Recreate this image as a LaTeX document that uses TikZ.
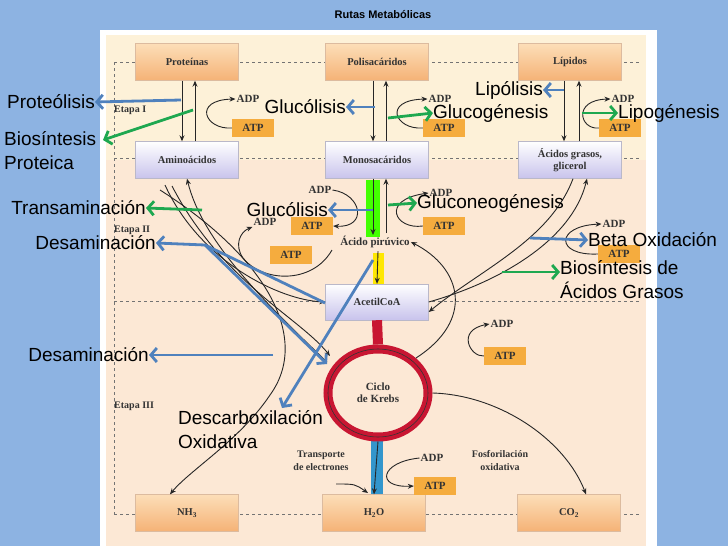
\documentclass[tikz,border=0pt]{standalone}
\usepackage{fontspec}
\setmainfont{Liberation Sans}
\newfontfamily\serf{Liberation Serif}
\usetikzlibrary{arrows.meta,shapes.geometric}
\definecolor{bgblue}{RGB}{141,179,226}
\definecolor{beigeA}{RGB}{253,241,216}
\definecolor{beigeB}{RGB}{252,232,213}
\definecolor{atpor}{RGB}{245,172,62}
\definecolor{annblue}{RGB}{79,129,189}
\definecolor{anngreen}{RGB}{30,168,80}
\definecolor{kred}{RGB}{200,22,50}
\definecolor{tboxA}{RGB}{252,222,184}
\definecolor{tboxB}{RGB}{245,178,118}
\definecolor{mboxB}{RGB}{200,195,236}
\begin{document}
\begin{tikzpicture}[x=1pt,y=-1pt,
  tbox/.style={draw=tboxB!80!black!60, top color=tboxA, bottom color=tboxB, minimum width=103pt, minimum height=37pt, inner sep=1pt, font=\serf\bfseries\fontsize{10.5}{11}\selectfont, text=black!80},
  mbox/.style={draw=mboxB!70!black!60, top color=white, bottom color=mboxB, minimum width=103pt, minimum height=37pt, inner sep=1pt, align=center, font=\serf\bfseries\fontsize{10.5}{12}\selectfont, text=black!80},
  atp/.style={fill=atpor, minimum width=42pt, minimum height=18pt, inner sep=0pt, font=\serf\bfseries\fontsize{11}{11}\selectfont, text=black!80},
  sm/.style={inner sep=1pt, font=\serf\bfseries\fontsize{11}{12}\selectfont, text=black!80},
  dl/.style={draw=black!55, dashed, line width=0.6pt},
  blk/.style={draw=black!85, line width=0.9pt, -{Stealth[length=6pt,width=5pt]}},
  ann/.style={inner sep=0pt, font=\fontsize{19}{24}\selectfont, align=left},
  barr/.style={annblue, line width=2.8pt, -{Straight Barb[length=6pt,width=14pt]}},
  garr/.style={anngreen, line width=2.8pt, -{Straight Barb[length=6pt,width=14pt]}}]
\useasboundingbox (0,0) rectangle (728,546);
\fill[bgblue] (0,0) rectangle (728,546);
\fill[white] (100,30) rectangle (657,546);
\fill[beigeA] (106,35) rectangle (646,160);
\fill[beigeB] (106,160) rectangle (646,546);
\node[font=\bfseries\fontsize{11}{13}\selectfont] (title) at (383,15) {Rutas Metabólicas};
% dashed stage lines
\draw[dl] (114,62) -- (641,62);
\draw[dl] (114,158) -- (641,158);
\draw[dl] (114,301) -- (641,301);
\draw[dl] (114,514) -- (641,514);
\draw[dl] (114,62) -- (114,514);
% bars
\fill[green!65!lime] (366,180) rectangle (380,237);
\fill[yellow!90!orange] (373,253) rectangle (384,285);
\fill[blue!35!cyan!60!gray] (371,440) rectangle (383,495);
% boxes
\node[tbox] (prot) at (187,62) {Proteínas};
\node[tbox] (poli) at (377,62) {Polisacáridos};
\node[tbox] (lip) at (570,62) {Lípidos};
\node[mbox] (amino) at (187,160) {Aminoácidos};
\node[mbox] (mono) at (377,160) {Monosacáridos};
\node[mbox] (acg) at (570,160) {Ácidos grasos,\\glicerol};
\node[mbox, minimum height=36pt] (acetil) at (377,302) {AcetilCoA};
\node[tbox] (nh) at (187,513) {NH\textsubscript{3}};
\node[tbox] (h2o) at (374,513) {H\textsubscript{2}O};
\node[tbox] (co2) at (569,513) {CO\textsubscript{2}};
\node[sm] (pir) at (375,242) {Ácido pirúvico};
\node[ellipse, draw=kred, line width=9pt, minimum width=100pt, minimum height=88pt, sm, align=center] (krebs) at (378,393) {Ciclo\\de Krebs};
\draw[kred, line width=10pt] (acetil.south) -- (krebs.north);
\draw[black!80, line width=0.6pt] (378,393) ellipse (50pt and 44pt);
% stage labels
\node[sm, anchor=west, font=\serf\bfseries\fontsize{10}{11}\selectfont] (e1) at (113,110) {Etapa I};
\node[sm, anchor=west, font=\serf\bfseries\fontsize{10}{11}\selectfont] (e2) at (113,230) {Etapa II};
\node[sm, anchor=west, font=\serf\bfseries\fontsize{10}{11}\selectfont] (e3) at (113,406) {Etapa III};
% stage I arrows
\draw[blk] ([xshift=-5pt]prot.south) -- ([xshift=-5pt]amino.north);
\draw[blk] ([xshift=8pt]amino.north) -- ([xshift=8pt]prot.south);
\draw[blk] ([xshift=-4pt]poli.south) -- ([xshift=-4pt]mono.north);
\draw[blk] ([xshift=9pt]mono.north) -- ([xshift=9pt]poli.south);
\draw[blk] ([xshift=-6pt]lip.south) -- ([xshift=-6pt]acg.north);
\draw[blk] ([xshift=9pt]acg.north) -- ([xshift=9pt]lip.south);
\node[sm] (adp1) at (248,99) {ADP};
\node[atp] (atp1) at (253,128) {ATP};
\draw[blk] (atp1.west) .. controls (205,130) and (192,100) .. (adp1.west);
\node[sm] (adp2) at (440,99) {ADP};
\node[atp] (atp2) at (444,128) {ATP};
\draw[blk] (atp2.west) .. controls (395,130) and (382,100) .. (adp2.west);
\node[sm] (adp3) at (623,99) {ADP};
\node[atp] (atp3) at (620,128) {ATP};
\draw[blk] (atp3.west) .. controls (580,130) and (572,100) .. (adp3.west);
% stage II middle
\draw[blk] ([xshift=-4pt]mono.south) -- (373,235);
\draw[blk] (386,233) -- ([xshift=9pt]mono.south);
\draw[blk] (pir.south) ++(3,2) coordinate (pyb) (pyb) -- (acetil.north);
\node[sm] (adpL) at (320,190) {ADP};
\node[atp] (atpL) at (312,226) {ATP};
\draw[blk] (adpL.east) .. controls (362,194) and (368,228) .. (atpL.east);
\node[sm] (adpR) at (441,193) {ADP};
\node[atp] (atpR) at (444,226) {ATP};
\draw[blk] (atpR.west) .. controls (395,230) and (380,200) .. (adpR.west);
\node[sm] (adpP) at (265,222) {ADP};
\node[atp] (atpP) at (291,255) {ATP};
\draw[blk] (332,250) .. controls (312,285) and (262,282) .. (243,258) .. controls (234,245) and (240,232) .. (adpP.south west);
% left bundle
\coordinate (aa1) at (165,185);
\coordinate (aa2) at (172,186);
\coordinate (aa3) at (160,190);
\draw[blk] (aa1) .. controls (200,262) and (280,300) .. (acetil.west);
\draw[blk] (327,362) .. controls (262,300) and (202,240) .. (amino.south);
\draw[blk] (aa2) .. controls (222,282) and (300,318) .. (330,356);
\draw[blk] (aa3) .. controls (270,260) and (310,340) .. (270,395) .. controls (240,440) and (190,470) .. ([xshift=-17pt]nh.north);
% right bundle
\draw[blk] (acetil.east) .. controls (500,282) and (572,240) .. ([xshift=17pt]acg.south);
\draw[blk] ([xshift=3pt]acg.south) .. controls (550,240) and (480,270) .. ([yshift=-10pt]acetil.east);
\draw[blk] (416,358) .. controls (475,320) and (462,268) .. (pir.east);
\node[sm] (adpK) at (502,324) {ADP};
\node[atp] (atpK) at (505,356) {ATP};
\draw[blk] (atpK.west) .. controls (470,357) and (456,330) .. (adpK.west);
\node[sm] (adpB) at (614,224) {ADP};
\node[atp] (atpB) at (619,254) {ATP};
\draw[blk] (atpB.west) .. controls (555,256) and (555,226) .. (adpB.west);
% stage III
\draw[blk] (krebs.east) .. controls (500,395) and (565,440) .. ([xshift=17pt]co2.north);
\draw[blk] (krebs.south) -- (h2o.north);
\node[sm, align=center, font=\serf\bfseries\fontsize{10}{13}\selectfont] (tr) at (321,461) {Transporte\\de electrones};
\draw[blk] (336,484) .. controls (355,484) .. (368,493);
\node[sm] (adp5) at (432,458) {ADP};
\node[atp] (atp5) at (435,486) {ATP};
\draw[blk] (adp5.west) .. controls (380,462) and (375,488) .. (atp5.west);
\node[sm, align=center, font=\serf\bfseries\fontsize{10}{13}\selectfont] (fo) at (500,461) {Fosforilación\\oxidativa};
% annotations
\node[ann, anchor=west] (proteol) at (7,102) {Proteólisis};
\node[ann, anchor=north west] (biosp) at (4,131) {Biosíntesis\\Proteica};
\node[ann, anchor=east] (gluc1) at (346,107) {Glucólisis};
\node[ann, anchor=east] (lipol) at (543,90) {Lipólisis};
\node[ann, anchor=west] (glucog) at (433,113) {Glucogénesis};
\node[ann, anchor=west] (lipog) at (618,113) {Lipogénesis};
\node[ann, anchor=east] (transam) at (146,208) {Transaminación};
\node[ann, anchor=east] (gluc2) at (328,210) {Glucólisis};
\node[ann, anchor=west] (gluconeo) at (417,203) {Gluconeogénesis};
\node[ann, anchor=east] (desam1) at (156,243) {Desaminación};
\node[ann, anchor=west] (beta) at (588,240) {Beta Oxidación};
\node[ann, anchor=north west] (biosag) at (560,260) {Biosíntesis de\\Ácidos Grasos};
\node[ann, anchor=east] (desam2) at (149,355) {Desaminación};
\node[ann, anchor=north west] (descarb) at (178,410) {Descarboxilación\\Oxidativa};
\coordinate (c1) at (181,100);
\coordinate (c2) at (193,110);
\coordinate (c2t) at (103,140);
\coordinate (c3) at (375,107);
\coordinate (c4) at (564,90);
\coordinate (c5) at (388,118);
\coordinate (c6) at (582,113);
\coordinate (c7) at (202,210);
\coordinate (c8) at (373,210);
\coordinate (c9) at (388,205);
\coordinate (c10) at (325,303);
\coordinate (c11) at (205,245);
\coordinate (c12) at (327,364);
\coordinate (c13) at (530,238);
\coordinate (c14) at (502,272);
\coordinate (c15) at (273,355);
\coordinate (c16) at (373,260);
\coordinate (c16t) at (282,408);
\draw[barr] (c1) -- (proteol.east);
\draw[garr] (c2) -- (c2t);
\draw[barr] (c3) -- (gluc1.east);
\draw[barr] (c4) -- (lipol.east);
\draw[garr] (c5) -- (glucog.west);
\draw[garr] (c6) -- (lipog.west);
\draw[garr] (c7) -- (transam.east);
\draw[barr] (c8) -- (gluc2.east);
\draw[garr] (c9) -- (gluconeo.west);
\draw[barr] (c10) -- (c11) -- (desam1.east);
\draw[barr] (c11) -- (c12);
\draw[barr] (c13) -- (beta.west);
\draw[garr] (c14) -- (biosag.north west |- c14);
\draw[barr] (c15) -- (desam2.east);
\draw[barr] (c16) -- (c16t);
\end{tikzpicture}
\end{document}
